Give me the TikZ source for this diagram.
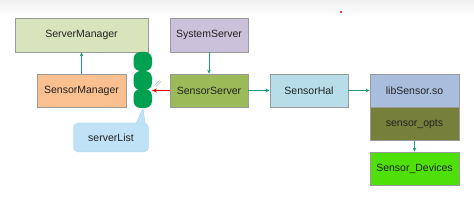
\documentclass[tikz,border=0pt]{standalone}
\usepackage{fontspec}
\setmainfont{Liberation Sans}
\usetikzlibrary{arrows.meta}
\definecolor{cSM}{HTML}{D8E4BC}
\definecolor{cSys}{HTML}{CCC1DA}
\definecolor{cSenM}{HTML}{FAC08F}
\definecolor{cSenS}{HTML}{9BBB59}
\definecolor{cHal}{HTML}{B7DEE8}
\definecolor{cLib}{HTML}{A9BEDD}
\definecolor{cOpts}{HTML}{76803B}
\definecolor{cDev}{HTML}{4FE00A}
\definecolor{cBlob}{HTML}{00A050}
\definecolor{cArr}{HTML}{1A9C7C}
\definecolor{cCall}{HTML}{BFE2F6}
\definecolor{cCallB}{HTML}{A3D3EF}
\definecolor{cBord}{HTML}{9A9A9A}
\definecolor{cTxt}{HTML}{222222}
\tikzset{
  box/.style={draw=cBord, line width=0.6pt, minimum height=34pt, inner sep=0pt, font=\fontsize{10.5}{12}\selectfont, text=cTxt},
  conn/.style={draw=cArr, line width=0.9pt, -{Stealth[length=4pt,width=3.5pt]}},
}
\begin{document}
\begin{tikzpicture}[x=1pt,y=-1pt]
\useasboundingbox (0,0) rectangle (474,205);
\fill[white] (0,0) rectangle (474,205);
\shade[top color=black!6, bottom color=white] (0,0) rectangle (474,16);
\fill[red!80!black] (341,12) circle (1.2);
% boxes
\node[box, fill=cSM, minimum width=133pt] (servm) at (81.5,35) {ServerManager};
\node[box, fill=cSys, minimum width=78pt] (sys) at (209,35) {SystemServer};
\node[box, fill=cSenM, minimum width=89pt, minimum height=33pt] (senm) at (81.5,90.5) {SensorManager};
\node[box, fill=cSenS, minimum width=78pt, minimum height=33pt] (sens) at (209,90.5) {SensorServer};
\node[box, fill=cHal, minimum width=78pt, minimum height=33pt] (hal) at (309,90.5) {SensorHal};
\node[box, fill=cLib, minimum width=89pt, minimum height=33pt] (lib) at (414.5,90.5) {libSensor.so};
\node[box, fill=cOpts, minimum width=89pt, minimum height=33pt, anchor=north] (opts) at (lib.south) {sensor\_opts};
\node[box, fill=cDev, minimum width=89pt, minimum height=33pt] (dev) at (414.5,168.5) {Sensor\_Devices};
% blobs
\foreach \i/\y in {1/52,2/71,3/89}{
  \fill[cBlob, rounded corners=7pt] (133.5,\y) rectangle (152,\y+19);
  \node[inner sep=0pt, minimum width=18pt, minimum height=19pt] (blob\i) at (142.75,\y+9.5) {};
}
% callout
\fill[cCall, draw=cCallB, line width=0.5pt] (136,123.5) -- (143,108.5) -- (145,123.5) -- cycle;
\node[draw=cCallB, fill=cCall, rounded corners=5pt, minimum width=75pt, minimum height=29pt, inner sep=0pt, font=\fontsize{10.5}{12}\selectfont, text=cTxt] (slist) at (111,137.5) {serverList};
\fill[cCall] (136.8,122.8) -- (143,109.5) -- (144.5,122.8) -- cycle;
% connectors
\draw[conn] (senm.north) -- (senm.north |- servm.south);
\draw[conn] (sys.south) -- (sens.north);
\draw[conn] (sens.east) -- (hal.west);
\draw[conn] (hal.east) -- (lib.west);
\draw[conn] (opts.south) -- (dev.north);
\draw[red!90!black, line width=0.9pt, -{Stealth[length=5pt,width=4pt]}] (sens.west) -- (blob3.east |- sens.west);
\draw[gray!60, line width=0.5pt] (154.5,85.5) -- (159.5,80.5) (156,86.5) -- (161,81.5);
\end{tikzpicture}
\end{document}
